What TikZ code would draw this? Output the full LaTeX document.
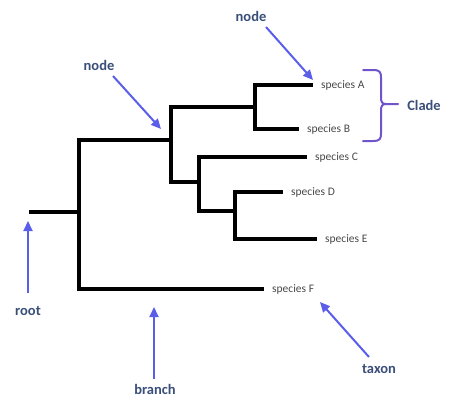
\documentclass[tikz,border=0pt]{standalone}
\usepackage{fontspec}
\setmainfont{Carlito}
\usetikzlibrary{arrows.meta}
\definecolor{arrblue}{RGB}{90,94,232}
\definecolor{bracepurple}{RGB}{112,84,204}
\definecolor{lblblue}{RGB}{58,78,122}
\definecolor{sptext}{RGB}{72,72,72}
\tikzset{
  tree/.style={line width=4pt, black, line cap=butt, line join=miter},
  sp/.style={anchor=west, inner xsep=8pt, inner ysep=0pt, font=\fontsize{11.5}{12}\selectfont, text=sptext},
  lbl/.style={font=\bfseries\fontsize{14.5}{15}\selectfont, text=lblblue, inner sep=0pt},
  arr/.style={line width=2pt, arrblue, -{Triangle[length=10pt,width=9pt]}},
  bracestyle/.style={line width=2pt, bracepurple, line cap=round}
}
\begin{document}
\begin{tikzpicture}[x=1pt,y=-1pt]
\useasboundingbox (0,0) rectangle (474,405);
% tree vertices
\coordinate (rootend) at (29,212);
\coordinate (nroot) at (79,212);
\coordinate (rtop) at (79,140);
\coordinate (rbot) at (79,289);
\coordinate (n1) at (171,140);
\coordinate (n1top) at (171,107);
\coordinate (n1bot) at (171,182);
\coordinate (nAB) at (255,107);
\coordinate (nABtop) at (255,85);
\coordinate (nABbot) at (255,129);
\coordinate (nCDE) at (199,182);
\coordinate (nCDEtop) at (199,157);
\coordinate (nCDEbot) at (199,211);
\coordinate (nDE) at (235,211);
\coordinate (nDEtop) at (235,192);
\coordinate (nDEbot) at (235,239);
% species
\node[sp] (spA) at (313,85) {species A};
\node[sp] (spB) at (299,129) {species B};
\node[sp] (spC) at (307,157) {species C};
\node[sp] (spD) at (283,192) {species D};
\node[sp] (spE) at (317,239) {species E};
\node[sp] (spF) at (264,289) {species F};
% branches
\draw[tree] (rootend) -- (nroot);
\draw[tree] (n1) -- (rtop) -- (rbot) -- (spF.west);
\draw[tree] (nAB) -- (n1top) -- (n1bot) -- (nCDE);
\draw[tree] (spA.west) -- (nABtop) -- (nABbot) -- (spB.west);
\draw[tree] (spC.west) -- (nCDEtop) -- (nCDEbot) -- (nDE);
\draw[tree] (spD.west) -- (nDEtop) -- (nDEbot) -- (spE.west);
% labels
\node[lbl] (lnodetop) at (251,16) {node};
\node[lbl] (lnodeleft) at (99,65) {node};
\node[lbl] (lroot) at (28,311) {root};
\node[lbl] (lbranch) at (155,389) {branch};
\node[lbl] (ltaxon) at (379,369) {taxon};
\node[lbl] (lclade) at (424,105) {Clade};
% arrows
\coordinate (a1s) at (266,27); \coordinate (a1e) at (313,80);
\coordinate (a2s) at (113,76); \coordinate (a2e) at (161,129);
\coordinate (a3s) at (28,293); \coordinate (a3e) at (28,221);
\coordinate (a4s) at (154,379); \coordinate (a4e) at (154,307);
\coordinate (a5s) at (369,357); \coordinate (a5e) at (320,302);
\draw[arr] (a1s) -- (a1e);
\draw[arr] (a2s) -- (a2e);
\draw[arr] (a3s) -- (a3e);
\draw[arr] (a4s) -- (a4e);
\draw[arr] (a5s) -- (a5e);
% brace
\coordinate (btip) at (386,104);
\coordinate (bend) at (398,104);
\draw[bracestyle] (363,70) -- (373,70) .. controls (380,70) and (381,72) .. (381,78) -- (381,97) .. controls (381,102) and (382,104) .. (btip) -- (bend);
\draw[bracestyle] (363,141) -- (373,141) .. controls (380,141) and (381,139) .. (381,133) -- (381,111) .. controls (381,106) and (382,104) .. (btip);
\end{tikzpicture}
\end{document}
